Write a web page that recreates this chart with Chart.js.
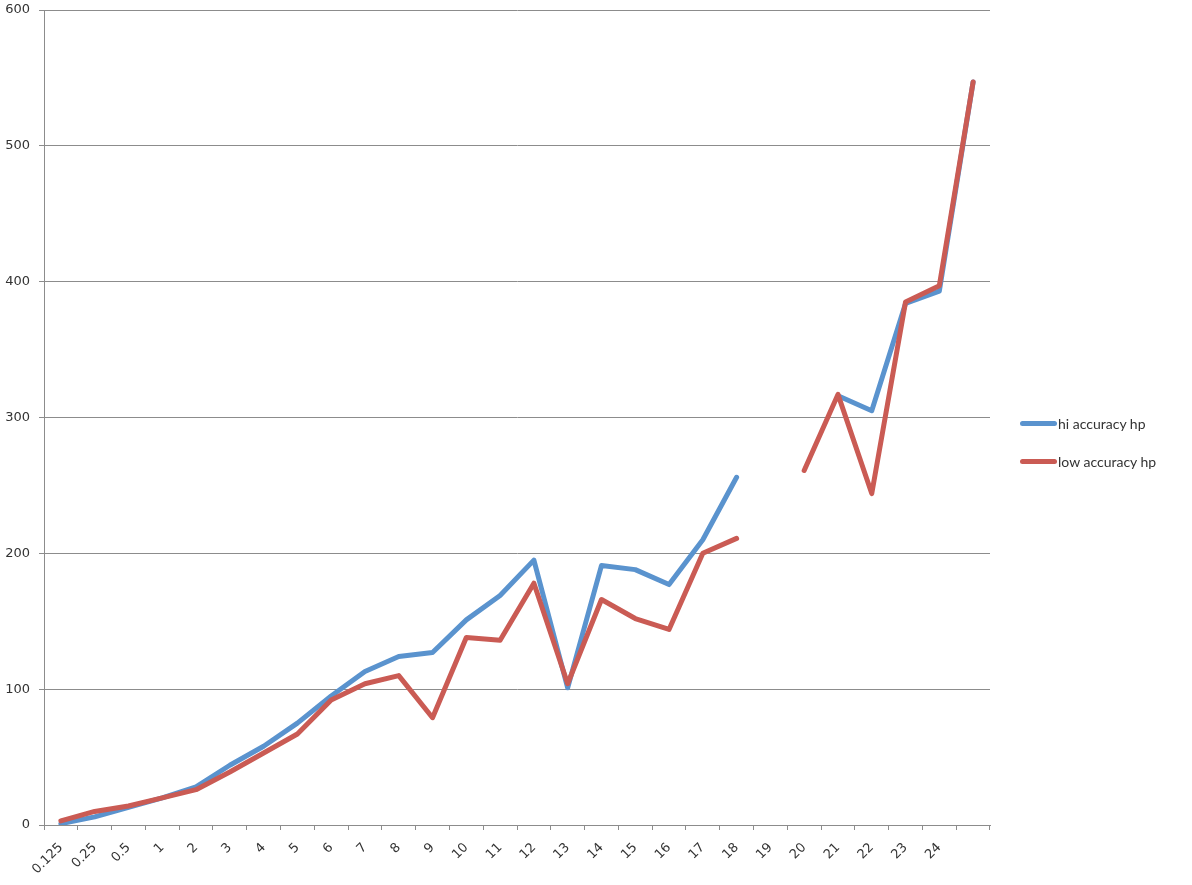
<!DOCTYPE html>
<html>
<head>
<meta charset="utf-8">
<title>hi vs low accuracy hp</title>
<script src="https://cdn.jsdelivr.net/npm/chart.js@4.4.0/dist/chart.umd.min.js"></script>
<style>
  body { margin: 0; background: #ffffff; }
  #wrap { position: relative; width: 1192px; height: 885px; }
  .legend-item { position: absolute; left: 1020px; height: 20px; display: flex; align-items: center;
                 font-family: Lato, "Open Sans", sans-serif; font-size: 14px; color: #333; }
  .legend-item .swatch { width: 37px; height: 5px; border-radius: 3px; margin-right: 1px; }
</style>
</head>
<body>
<div id="wrap">
  <canvas id="hpChart" width="1192" height="885"></canvas>
  <div class="legend-item" style="top:413px"><span class="swatch" style="background:#5A93CE"></span>hi accuracy hp</div>
  <div class="legend-item" style="top:451px"><span class="swatch" style="background:#CA5B54"></span>low accuracy hp</div>
</div>
<script>
// categories along the x axis (last slot has no label)
const categories = ['0.125', '0.25', '0.5', '1', '2', '3', '4', '5', '6', '7', '8', '9', '10',
    '11', '12', '13', '14', '15', '16', '17', '18', '19', '20', '21', '22', '23', '24', ''];

// series values (null = gap)
const hiAccuracy = [1, 6, 13, 20, 28, 44, 58, 75, 95, 113, 124, 127, 151, 169, 195, 101,
    191, 188, 177, 210, 256, null, null, 316, 305, 384, 393, 547];
const lowAccuracy = [3, 10, 14, 20, 26, 39, 53, 67, 92, 104, 110, 79, 138, 136, 178, 104,
    166, 152, 144, 200, 211, null, 261, 317, 244, 385, 397, 547];

const yTicks = [0, 100, 200, 300, 400, 500, 600];

const axisGray = '#8c8c8c';
const tickFont = { family: '"DejaVu Sans", Verdana, sans-serif', size: 13 };

const ctx = document.getElementById('hpChart').getContext('2d');

new Chart(ctx, {
    type: 'line',
    data: {
        labels: categories,
        datasets: [
            {
                label: 'hi accuracy hp',
                data: hiAccuracy,
                borderColor: '#5A93CE',
                order: 1
            },
            {
                label: 'low accuracy hp',
                data: lowAccuracy,
                borderColor: '#CA5B54',
                order: 0
            }
        ]
    },
    options: {
        responsive: false,
        animation: false,
        spanGaps: false,
        layout: { padding: { top: 10, right: 202, left: 0, bottom: 0 } },
        elements: {
            line: { borderWidth: 5, tension: 0, borderCapStyle: 'round', borderJoinStyle: 'round', fill: false },
            point: { radius: 0, hoverRadius: 0 }
        },
        plugins: {
            legend: { display: false },
            tooltip: { enabled: false }
        },
        scales: {
            x: {
                offset: true,
                grid: { offset: true, drawOnChartArea: false, drawTicks: true, tickLength: 5, color: axisGray },
                border: { color: axisGray },
                ticks: {
                    autoSkip: false, maxRotation: 45, minRotation: 45,
                    padding: 10, color: '#333', font: tickFont
                },
                afterFit: function(scale) { scale.height = 60; }
            },
            y: {
                min: 0,
                max: 600,
                afterBuildTicks: function(scale) {
                    scale.ticks = yTicks.map(v => ({ value: v }));
                },
                grid: { color: axisGray, tickLength: 5 },
                border: { color: axisGray },
                ticks: { padding: 9, color: '#333', font: tickFont },
                afterFit: function(scale) {
                    scale.width = 44;
                    // keep the top gridline at the padding edge
                    scale.paddingTop = 0;
                    scale.paddingBottom = 0;
                }
            }
        }
    }
});
</script>
</body>
</html>
